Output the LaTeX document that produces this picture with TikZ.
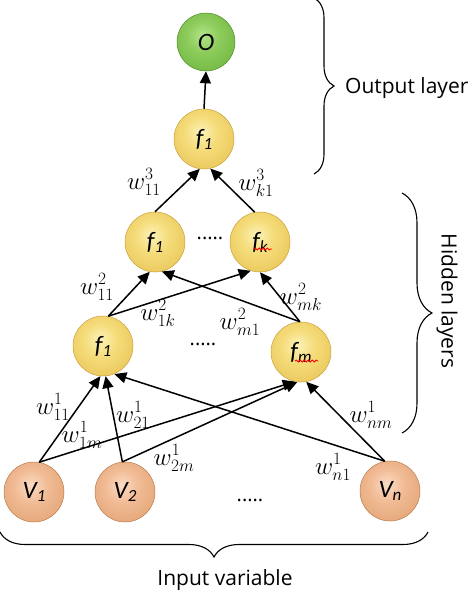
\documentclass[tikz,border=0pt]{standalone}
\usepackage{fontspec}
\setmainfont{Open Sans}
\newfontfamily\nodefont{Carlito}
\usetikzlibrary{arrows.meta,decorations.pathreplacing,decorations.pathmorphing}
\definecolor{yL}{HTML}{FCF2B8}
\definecolor{yM}{HTML}{F5DC7A}
\definecolor{yD}{HTML}{E6C253}
\definecolor{yE}{HTML}{C9A03A}
\definecolor{gL}{HTML}{B2E58A}
\definecolor{gM}{HTML}{8DCC5C}
\definecolor{gD}{HTML}{6DB33C}
\definecolor{gE}{HTML}{4E8E26}
\definecolor{pL}{HTML}{FADCC4}
\definecolor{pM}{HTML}{F1BB95}
\definecolor{pD}{HTML}{E1A170}
\definecolor{pE}{HTML}{B97A4C}
\pgfdeclareradialshading{yball}{\pgfpoint{-3bp}{6bp}}{color(0bp)=(yL);color(14bp)=(yM);color(36bp)=(yD);color(50bp)=(yE);color(72bp)=(yE)}
\pgfdeclareradialshading{gball}{\pgfpoint{-3bp}{6bp}}{color(0bp)=(gL);color(14bp)=(gM);color(36bp)=(gD);color(50bp)=(gE);color(72bp)=(gE)}
\pgfdeclareradialshading{pball}{\pgfpoint{-3bp}{6bp}}{color(0bp)=(pL);color(14bp)=(pM);color(36bp)=(pD);color(50bp)=(pE);color(72bp)=(pE)}
\newcommand{\lowsub}[1]{\raisebox{-3pt}{\fontsize{17}{17}\selectfont #1}}
\begin{document}
\begin{tikzpicture}[x=1pt,y=-1pt,
  ball/.style={circle, minimum size=60pt, inner sep=0pt,
    font=\nodefont\itshape\fontsize{25}{25}\selectfont, line width=0.5pt},
  yb/.style={ball, shading=yball, draw=yE},
  gb/.style={ball, shading=gball, draw=gE, minimum size=58pt},
  pb/.style={ball, shading=pball, draw=pE},
  conn/.style={line width=1.5pt, -{Triangle[length=12pt,width=11pt]}},
  lab/.style={font=\fontsize{23}{26}\selectfont, inner sep=0pt},
  dots/.style={font=\fontsize{20}{22}\selectfont, inner sep=0pt},
  cbrace/.style={line width=1.1pt, decorate, decoration={brace, amplitude=#1}},
  txt/.style={font=\fontsize{21}{24}\selectfont, inner sep=0pt},
  squig/.style={red, line width=0.9pt, decorate, decoration={snake, amplitude=0.9pt, segment length=4pt}}
]
\useasboundingbox (0,0) rectangle (474,593);

% nodes
\node[gb] (O)  at (206,42)  {O};
\node[yb] (T)  at (204,139) {f\lowsub{1}};
\node[yb] (H1) at (155,242) {f\lowsub{1}};
\node[yb] (Hk) at (260,242) {f\lowsub{k}};
\node[yb] (L1) at (103,346) {f\lowsub{1}};
\node[yb] (Lm) at (301,352) {f\lowsub{m}};
\node[pb] (V1) at (34,492)  {V\lowsub{1}};
\node[pb] (V2) at (125,492) {V\lowsub{2}};
\node[pb] (Vn) at (390,491) {V\lowsub{n}};

% dots
\node[dots] (d1) at (210,238) {.....};
\node[dots] (d2) at (203,344) {.....};
\node[dots] (d3) at (250,500) {.....};

% red squiggles
\draw[squig] ([xshift=-6pt,yshift=-7pt]Hk.center) -- ([xshift=12pt,yshift=-7pt]Hk.center);
\draw[squig] ([xshift=-6pt,yshift=-9pt]Lm.center) -- ([xshift=17pt,yshift=-9pt]Lm.center);

% connectors
\draw[conn] (T.north) -- (O.south);
\draw[conn] (H1.north) -- (T.-98);
\draw[conn] (Hk.100) -- (T.-78);
\draw[conn] (L1.80) -- (H1.-100);
\draw[conn] (L1.80) -- (Hk.-108);
\draw[conn] (Lm.92) -- (H1.-77);
\draw[conn] (Lm.92) -- (Hk.-90);
\draw[conn] (V1.80) -- (L1.-95);
\draw[conn] (V2.95) -- (L1.-85);
\draw[conn] (Vn.100) -- (L1.-68);
\draw[conn] (V1.80) -- (Lm.-102);
\draw[conn] (V2.95) -- (Lm.-97);
\draw[conn] (Vn.100) -- (Lm.-80);

% weight labels
\node[lab] (a1) at (144,182) {$w_{11}^{3}$};
\node[lab] (a2) at (256,183) {$w_{k1}^{3}$};
\node[lab] (b1) at (97,287)  {$w_{11}^{2}$};
\node[lab] (b2) at (301,297) {$w_{mk}^{2}$};
\node[lab] (b3) at (158,313) {$w_{1k}^{2}$};
\node[lab] (b4) at (240,322) {$w_{m1}^{2}$};
\node[lab] (c1) at (53,407)  {$w_{11}^{1}$};
\node[lab] (c2) at (82,435)  {$w_{1m}^{1}$};
\node[lab] (c3) at (133,415) {$w_{21}^{1}$};
\node[lab] (c4) at (174,458) {$w_{2m}^{1}$};
\node[lab] (c5) at (333,467) {$w_{n1}^{1}$};
\node[lab] (c6) at (371,415) {$w_{nm}^{1}$};

% braces
\coordinate (ob1) at (314,-2);
\coordinate (ob2) at (314,174);
\draw[cbrace=20pt] (ob1) -- (ob2);
\coordinate (hb1) at (402,193);
\coordinate (hb2) at (402,433);
\draw[cbrace=30pt] (hb1) -- (hb2);
\coordinate (ib1) at (428,532);
\coordinate (ib2) at (0,532);
\draw[cbrace=25pt] (ib1) -- (ib2);

% texts
\node[txt, anchor=west] (tout) at (345,88) {Output layer};
\node[txt, rotate=-90] (thid) at (447,301) {Hidden layers};
\node[txt] (tin) at (225,580) {Input variable};
\end{tikzpicture}
\end{document}
